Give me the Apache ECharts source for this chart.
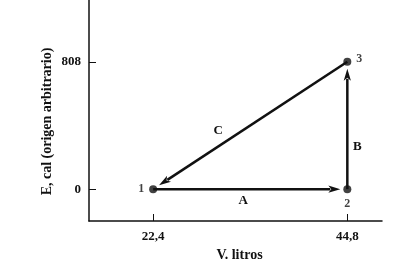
<!DOCTYPE html>
<html>
<head>
<meta charset="utf-8">
<script src="https://cdn.jsdelivr.net/npm/echarts@6/dist/echarts.min.js"></script>
<style>html,body{margin:0;padding:0;background:#fff;}#c{width:412px;height:267px;}</style>
</head>
<body>
<div id="c"></div>
<script>
// States 1, 2, 3
const stateNames = ['1', '2', '3'];
const volumes = [22.4, 44.8, 44.8];
const energies = [0, 0, 808];
// Paths between states (from index, to index)
const pathNames = ['A', 'B', 'C'];
const pathFrom = [0, 1, 2];
const pathTo = [1, 2, 0];
// Axis ticks
const xTicks = [22.4, 44.8];
const yTicks = [0, 808];

const FONT = 'Liberation Serif';
const INK = '#111';

const chart = echarts.init(document.getElementById('c'), null, {renderer: 'canvas'});

const pathData = pathNames.map((n, i) => [volumes[pathFrom[i]], energies[pathFrom[i]], volumes[pathTo[i]], energies[pathTo[i]], n]);
const labelOffsets = {A: [-7, 11, 'center', 'middle'], B: [10, 21, 'center', 'middle'], C: [-32, 5, 'center', 'middle']};
const pointLabelPos = {'1': 'left', '2': 'bottom', '3': 'right'};

chart.setOption({
  animation: false,
  backgroundColor: '#fff',
  grid: {left: 89, right: 30, top: 0, bottom: 43},
  xAxis: {
    type: 'value', min: 15, max: 48.8,
    axisLine: {onZero: false, lineStyle: {color: INK, width: 1.5}},
    splitLine: {show: false},
    axisTick: {inside: true, length: 7, lineStyle: {color: INK}, customValues: xTicks},
    axisLabel: {customValues: xTicks, color: INK, fontFamily: FONT, fontWeight: 'bold', fontSize: 13, margin: 9,
      formatter: v => String(v).replace('.', ',')},
    name: 'V. litros', nameLocation: 'middle', nameGap: 27,
    nameTextStyle: {color: INK, fontFamily: FONT, fontWeight: 'bold', fontSize: 14, padding: [0, 0, 0, 8]}
  },
  yAxis: {
    type: 'value', min: -202, max: 1200,
    axisLine: {show: true, onZero: false, lineStyle: {color: INK, width: 1.5}},
    splitLine: {show: false},
    axisTick: {show: true, inside: true, length: 7, lineStyle: {color: INK}, customValues: yTicks},
    axisLabel: {customValues: yTicks, color: INK, fontFamily: FONT, fontWeight: 'bold', fontSize: 13, margin: 8},
    name: 'E, cal (origen arbitrario)', nameLocation: 'middle', nameGap: 35, nameRotate: 90,
    nameMoveOverlap: false,
    nameTextStyle: {color: INK, fontFamily: FONT, fontWeight: 'bold', fontSize: 14, padding: [0, 22, 0, 0]}
  },
  series: [
    {
      type: 'custom',
      coordinateSystem: 'cartesian2d',
      data: pathData,
      encode: {x: [0, 2], y: [1, 3]},
      renderItem: function (params, api) {
        const p1 = api.coord([api.value(0), api.value(1)]);
        const p2 = api.coord([api.value(2), api.value(3)]);
        const name = pathNames[params.dataIndex];
        const dx = p2[0] - p1[0], dy = p2[1] - p1[1];
        const len = Math.sqrt(dx * dx + dy * dy);
        const ux = dx / len, uy = dy / len;
        const gap = 7, headLen = 12, headW = 3.6;
        const tip = [p2[0] - ux * gap, p2[1] - uy * gap];
        const base = [tip[0] - ux * headLen, tip[1] - uy * headLen];
        const nx = -uy, ny = ux;
        const off = labelOffsets[name];
        const mid = [(p1[0] + p2[0]) / 2 + off[0], (p1[1] + p2[1]) / 2 + off[1]];
        return {
          type: 'group',
          children: [
            {type: 'line', shape: {x1: p1[0], y1: p1[1], x2: base[0] + ux * 2, y2: base[1] + uy * 2},
              style: {stroke: INK, lineWidth: 2.5}},
            {type: 'polygon', shape: {points: [tip, [base[0] + nx * headW, base[1] + ny * headW], [base[0] + ux * 3, base[1] + uy * 3], [base[0] - nx * headW, base[1] - ny * headW]]},
              style: {fill: INK}},
            {type: 'text', x: mid[0], y: mid[1],
              style: {text: name, fill: INK, font: 'bold 13px ' + FONT, align: off[2], verticalAlign: off[3]}}
          ]
        };
      },
      silent: true
    },
    {
      type: 'scatter',
      symbol: 'circle',
      symbolSize: 8,
      itemStyle: {color: INK},
      data: stateNames.map((n, i) => ({
        value: [volumes[i], energies[i]],
        name: n,
        label: {show: true, position: pointLabelPos[n], distance: 5, formatter: n, offset: n === '3' ? [0, -3] : [0, 0],
          color: INK, fontFamily: FONT, fontWeight: 'bold', fontSize: 12}
      })),
      z: 5
    }
  ]
});
</script>
</body>
</html>
